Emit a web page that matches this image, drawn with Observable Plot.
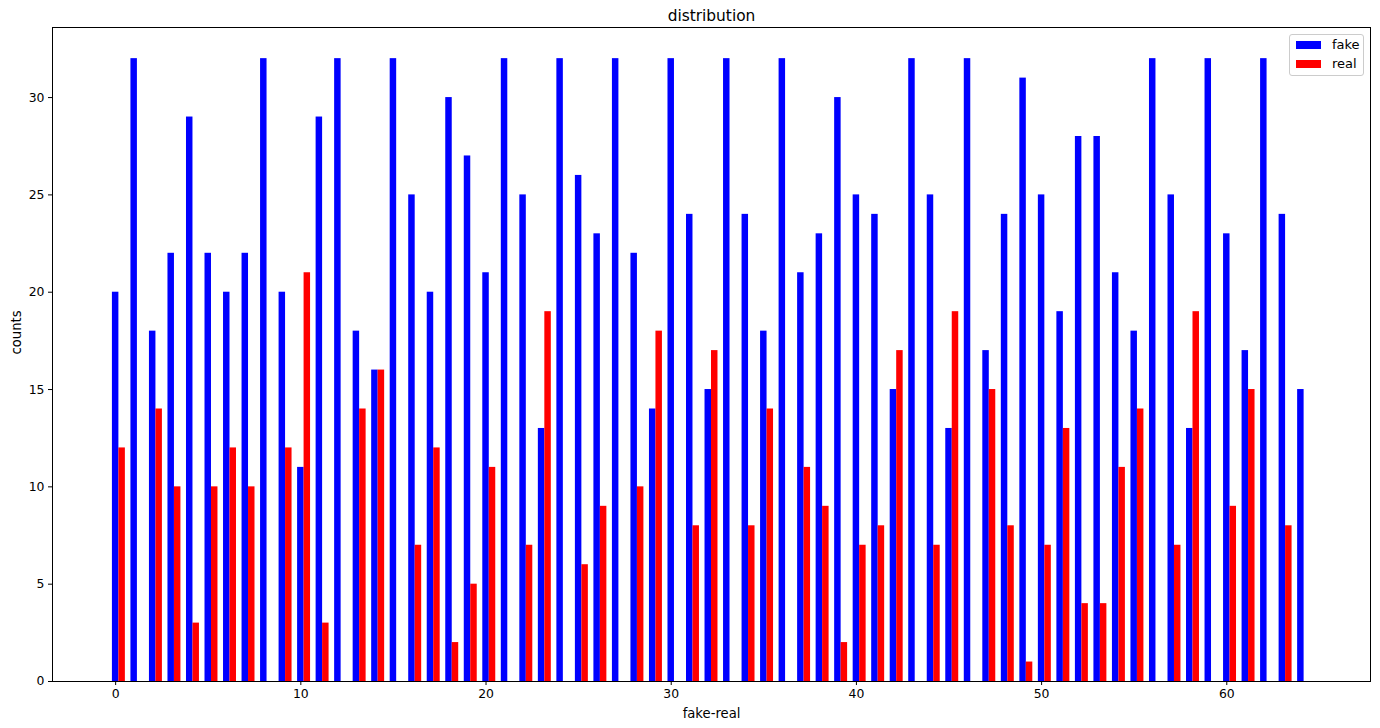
<!DOCTYPE html>
<html>
<head>
<meta charset="utf-8">
<script src="https://cdn.jsdelivr.net/npm/d3@7"></script>
<script src="https://cdn.jsdelivr.net/npm/@observablehq/plot@0.6"></script>
<style>
  html, body { margin: 0; padding: 0; background: #fff; }
  #wrap { position: relative; width: 1380px; height: 728px; font-family: "DejaVu Sans", sans-serif; }
  #legend { position: absolute; left: 1289px; top: 34px; width: 73px; height: 40px; border: 1px solid #ccc; border-radius: 3px; background: rgba(255,255,255,0.8); font-size: 13px; color: #000; }
  .item { position: absolute; left: 6px; display: flex; align-items: center; }
  .sw { width: 25px; height: 8px; margin-right: 11px; }
</style>
</head>
<body>
<div id="wrap">
  <div id="chart"></div>
  <div id="legend">
    <div class="item" style="top:2px"><div class="sw" style="background:#0000ff"></div><span>fake</span></div>
    <div class="item" style="top:21px"><div class="sw" style="background:#ff0000"></div><span>real</span></div>
  </div>
</div>
<script>
const positions = d3.range(0, 65);
const fake = [20,32,18,22,29,22,20,22,32,20,11,29,32,18,16,32,25,20,30,27,21,32,25,13,32,26,23,32,22,14,32,24,15,32,24,18,32,21,23,30,25,24,15,32,25,13,32,17,24,31,25,19,28,28,21,18,32,25,13,32,23,17,32,24,15];
const real = [12,0,14,10,3,10,12,10,0,12,21,3,0,14,16,0,7,12,2,5,11,0,7,19,0,6,9,0,10,18,0,8,17,0,8,14,0,11,9,2,7,8,17,0,7,19,0,15,8,1,7,13,4,4,11,14,0,7,19,0,9,15,0,8,0];
const xTicks = [0, 10, 20, 30, 40, 50, 60];
const yTicks = [0, 5, 10, 15, 20, 25, 30];

const rows = positions.map((p, i) => ({p, fake: fake[i], real: real[i]}));
const w = 0.35;

const chart = Plot.plot({
  width: 1380,
  height: 728,
  marginLeft: 52,
  marginRight: 10,
  marginTop: 27,
  marginBottom: 47,
  style: {fontFamily: "DejaVu Sans, sans-serif", fontSize: "12.4px", color: "#000", background: "#fff"},
  x: {domain: [-3.41, 67.76]},
  y: {domain: [0, 33.6]},
  marks: [
    Plot.rectY(rows, {x1: d => d.p - w / 2, x2: d => d.p + w / 2, y: "fake", fill: "#0000ff"}),
    Plot.rectY(rows, {x1: d => d.p + w / 2, x2: d => d.p + 1.5 * w, y: "real", fill: "#ff0000"}),
    Plot.axisX({ticks: xTicks, tickSize: 4, tickPadding: 4, label: null, fontSize: 12.4}),
    Plot.axisY({ticks: yTicks, tickSize: 4, tickPadding: 4, label: null, fontSize: 12.4}),
    Plot.frame({stroke: "#000", strokeWidth: 1}),
    Plot.text(["distribution"], {frameAnchor: "top", dy: -7, lineAnchor: "bottom", fontSize: 15.4, fill: "#000"}),
    Plot.text(["fake-real"], {frameAnchor: "bottom", dy: 36, lineAnchor: "bottom", fontSize: 13.2, fill: "#000"}),
    Plot.text(["counts"], {frameAnchor: "left", dx: -36, rotate: -90, fontSize: 13.2, fill: "#000"})
  ]
});
document.getElementById("chart").appendChild(chart);
</script>
</body>
</html>
